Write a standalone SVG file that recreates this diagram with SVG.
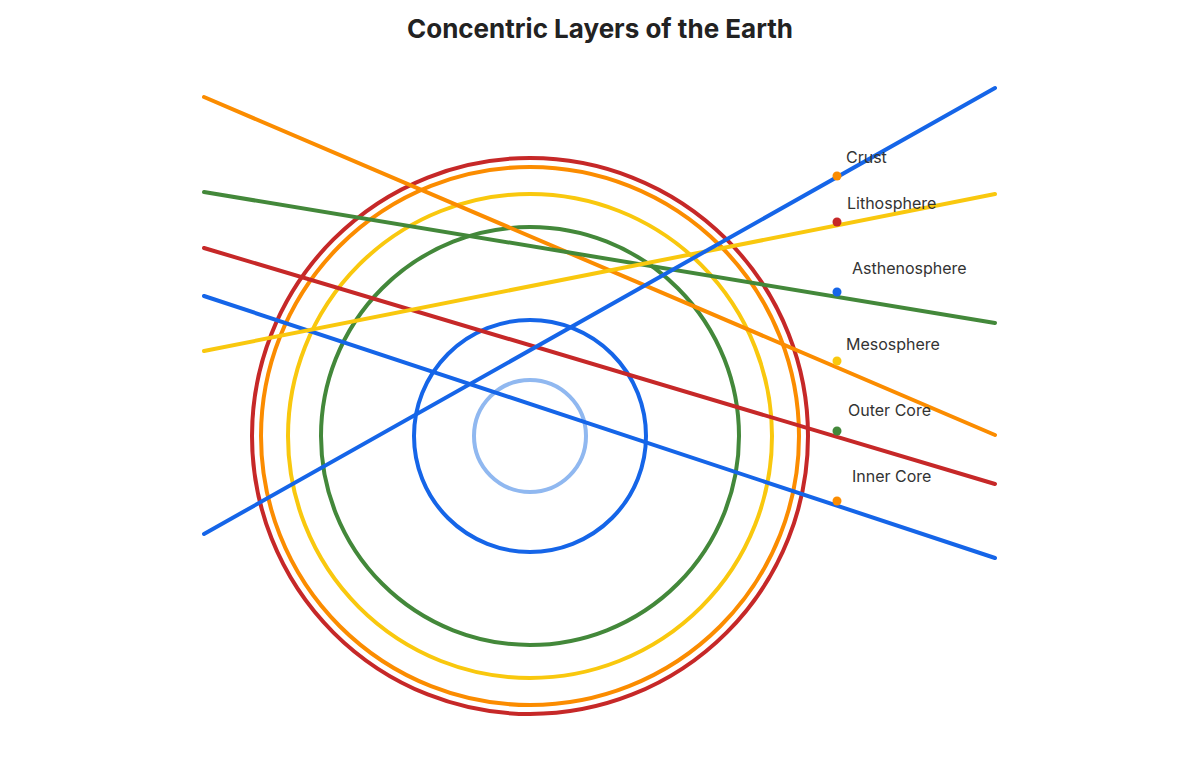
<svg xmlns="http://www.w3.org/2000/svg" width="1200" height="763" viewBox="0 0 1200 763">
<style>
.c{fill:none;stroke-width:4}
.l{stroke-width:4;stroke-linecap:round}
.t{font-family:Inter,"Open Sans",sans-serif;font-size:16px;fill:#333}
</style>
<rect width="1200" height="763" fill="#fff"/>
<text x="600" y="38" text-anchor="middle" font-family="Inter,'Open Sans',sans-serif" font-size="26" font-weight="bold" fill="#222">Concentric Layers of the Earth</text>
<g id="circles">
<circle class="c" cx="530" cy="436" r="278" stroke="#c62828"/>
<circle class="c" cx="530" cy="436" r="269" stroke="#fb8c00"/>
<circle class="c" cx="530" cy="436" r="242" stroke="#f9c80e"/>
<circle class="c" cx="530" cy="436" r="209" stroke="#43883a"/>
<circle class="c" cx="530" cy="436" r="116" stroke="#1565e8"/>
<circle class="c" cx="530" cy="436" r="56" stroke="#90b8f0"/>
</g>
<g id="connectors">
<line class="l" x1="204" y1="97" x2="995" y2="435" stroke="#fb8c00"/>
<line class="l" x1="204" y1="192" x2="995" y2="323" stroke="#43883a"/>
<line class="l" x1="204" y1="248" x2="995" y2="484" stroke="#c62828"/>
<line class="l" x1="204" y1="296" x2="995" y2="558" stroke="#1565e8"/>
<line class="l" x1="204" y1="351" x2="995" y2="194" stroke="#f9c80e"/>
<line class="l" x1="204" y1="534" x2="995" y2="88" stroke="#1565e8"/>
</g>
<g id="crust"><circle cx="837" cy="176" r="4.5" fill="#fb8c00"/><text class="t" x="846" y="163">Crust</text></g>
<g id="lithosphere"><circle cx="837" cy="222" r="4.5" fill="#c62828"/><text class="t" x="847" y="209">Lithosphere</text></g>
<g id="asthenosphere"><circle cx="837" cy="292" r="4.5" fill="#1565e8"/><text class="t" x="852" y="274">Asthenosphere</text></g>
<g id="mesosphere"><circle cx="837" cy="361" r="4.5" fill="#f9c80e"/><text class="t" x="846" y="350">Mesosphere</text></g>
<g id="outercore"><circle cx="837" cy="431" r="4.5" fill="#43883a"/><text class="t" x="848" y="416">Outer Core</text></g>
<g id="innercore"><circle cx="837" cy="501" r="4.5" fill="#fb8c00"/><text class="t" x="852" y="482">Inner Core</text></g>
</svg>
